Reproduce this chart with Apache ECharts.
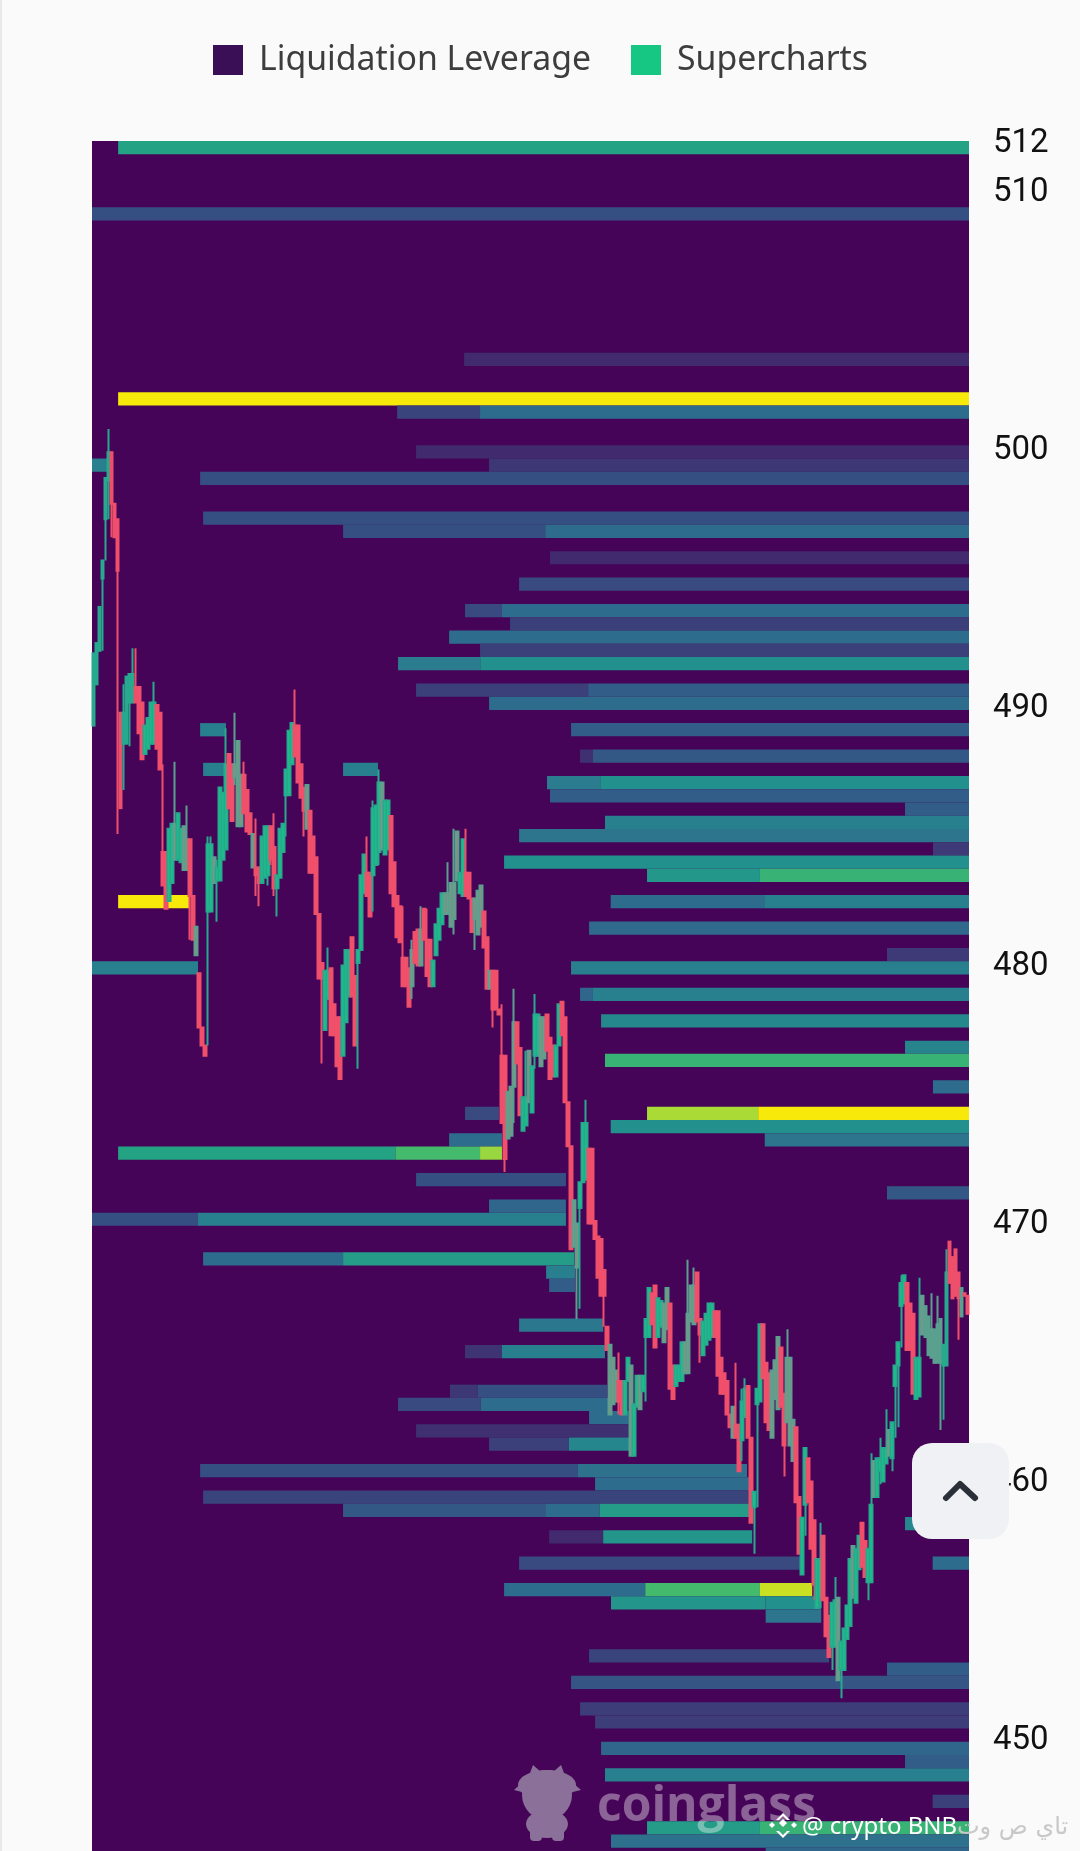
<!DOCTYPE html>
<html><head><meta charset="utf-8">
<style>html,body{margin:0;padding:0;background:#fafafa;overflow:hidden}
#c{position:absolute;left:0;top:0;width:1080px;height:1851px}
#e{position:absolute;left:0;top:0;width:2px;height:1851px;background:#e9e9e9}</style>
<script src="https://cdn.jsdelivr.net/npm/echarts@6/dist/echarts.min.js"></script>
</head><body><div id="c"></div><div id="e"></div>
<script>
const seriesNames=['Liquidation Leverage','Supercharts'];
const tickValues=[512,510,500,490,480,470,460,450];
const priceTop=511.86, priceBottom=445.58, binSize=0.5128, timeSpan=292;
// liquidation heat segments: price-bin row, from time, to time, normalised level
const heatRow=[0,5,16,19,20,20,23,24,24,25,28,29,29,31,33,35,35,36,37,38,39,39,41,41,42,44,44,46,46,47,47,48,48,49,50,51,52,53,54,55,55,57,57,57,59,61,62,62,64,64,66,68,69,71,73,73,73,74,75,75,76,76,76,78,79,80,81,81,84,84,85,86,89,91,91,94,94,95,95,96,97,98,98,100,100,101,102,103,103,103,104,105,105,107,107,109,109,109,110,110,111,114,115,116,118,119,121,122,123,125,127,127,128,129];
const heatFrom=[8.7,0,123.9,8.7,101.6,129.2,107.9,0,132.2,36,37,83.6,150.9,152.5,142.2,124.2,136.5,139.2,118.9,129.2,101.9,129.5,107.9,165.2,132.2,36,159.5,162.5,166.8,37,83.6,151.5,169.2,152.5,270.7,170.8,142.2,280,137.2,184.8,222.4,8.7,172.7,223.8,165.5,264.7,0,159.5,162.5,166.8,169.5,270.7,170.8,280,124.2,184.8,221.8,172.7,118.9,224,8.7,101,129.2,107.9,264.7,132.2,0,35.3,37,83.6,151.2,152.2,142.2,124.2,136.5,119.2,128.5,101.9,129.5,165.5,107.9,132.2,158.8,36,161.8,167.5,37,83.6,150.9,169,270.7,152.2,170.2,142.2,279.9,137.2,184.2,222.4,172.8,224.3,224.3,165.5,264.7,159.5,162.5,167.5,169.5,270.7,170.8,279.9,184.8,222.4,172.8,224.3];
const heatTo=[292,292,292,292,129.2,292,292,5,292,292,292,150.9,292,292,292,136.5,292,292,292,292,129.5,292,165.2,292,292,44.6,292,166.8,292,44.3,95.2,169.2,292,292,292,292,292,292,292,222.4,292,32.3,223.8,292,292,292,35.3,292,166.8,292,292,292,292,292,135.5,221.8,292,292,136.5,292,101,129.2,136.5,157.8,292,157.8,35.3,157.8,83.6,160.5,160.8,160.8,170.2,136.5,170.8,128.5,171.5,129.5,171.8,178.7,178.7,158.8,179.2,161.8,218.1,218.8,218.8,150.9,169,218.8,292,170.2,219.8,236.1,292,184.2,222.4,239.8,224.3,242.8,242.8,245.4,292,292,292,292,292,292,292,292,222.4,292,292,292];
const heatLevel=[.58,.22,.1,1,.18,.33,.1,.42,.14,.22,.22,.22,.33,.1,.2,.2,.33,.17,.33,.17,.4,.5,.17,.27,.33,.42,.27,.12,.25,.42,.42,.4,.5,.27,.27,.42,.37,.15,.5,.53,.66,1,.33,.42,.32,.15,.42,.42,.3,.42,.46,.44,.66,.33,.2,.88,1,.5,.33,.37,.58,.7,.85,.22,.25,.3,.22,.42,.33,.55,.42,.27,.38,.13,.42,.14,.22,.2,.33,.33,.12,.17,.45,.22,.35,.33,.18,.25,.33,.55,.45,.1,.52,.2,.33,.33,.7,.93,.52,.5,.37,.18,.27,.24,.16,.16,.3,.27,.42,.17,.55,.66,.35,.3];
const candleOHLC=[[489.2,492,489.2,492],[490.8,492.4,490.8,492.4],[492.1,493.8,492.1,493.8],[494.9,495.6,492.1,495.6],[497.2,498.8,495.6,498.8],[498.7,499.8,497.2,500.7],[499.8,497.8,496.5,499.8],[497.8,496.5,496.5,497.8],[497.2,495.2,485,497.2],[489.7,486,486,489.7],[488.5,489.7,486.7,490.8],[488.5,491.1,488.5,491.1],[490.1,491.2,488.4,491.2],[490.1,491.2,490.1,492.2],[490.7,490.1,490.1,492.2],[490.7,488.9,488.9,490.7],[490.1,487.9,487.9,490.1],[488.1,489.2,488.1,489.2],[488.3,489.5,488.3,489.5],[488.5,490.1,488.5,490.1],[488.5,490.1,488.5,490.9],[490,488.3,488.3,490],[489.7,487.5,487.5,489.7],[484.3,483,483,487.7],[484.3,482.1,482.1,484.3],[482.4,485.2,482.4,485.2],[483.1,485.4,483.1,485.4],[485.4,484,484,487.8],[484,485.8,484,485.8],[483.9,485.2,483.9,485.2],[485.3,483.6,483.6,485.3],[483.6,484.8,483.6,486.1],[484.8,482.6,480.9,484.8],
[482.6,480.9,480.9,482.6],[480.3,481.4,480.3,481.4],[479.6,477.5,477.5,479.6],[477.5,476.8,476.8,477.5],[476.8,476.4,476.4,476.8],[482,484.6,476.8,484.9],[482,484.6,482,484.9],[484.1,483.1,483.1,484.1],[483.2,483.7,481.6,484],[483.2,486.8,483.2,486.8],[484,486.6,484,486.6],[484.4,487.7,484.4,489.1],[488.1,486,486,488.1],[487.7,485.5,485.5,487.7],[487.2,487.7,486.9,489.7],[488.6,485.3,485.3,488.6],[485.3,487.3,485.3,487.3],[487.3,485.8,485.8,487.8],[486.7,485.1,485.1,486.7],[485.8,485,485,485.8],[483.7,485,483.7,485],[483.7,483.4,482.6,485.6],[483.7,483.1,482.2,483.7],[483.1,484.9,483.1,484.9],[483.3,485.3,483.3,485.3],[483.4,485.3,483,485.3],[485.3,484,483.8,485.3],[484.5,482.9,482.6,485.8],[482.9,483.4,481.8,483.4],[483.3,485.2,483.3,485.2],[484.3,485.4,484.3,485.4],[486.5,487.5,484.9,487.5],[486.5,489,486.5,489],[487.7,489.3,487.7,489.3],[489.2,488,488,490.6],[489.2,487,487,489.2],[487.7,486.4,486.4,487.7],[486.8,485.9,484.9,486.8],[485.2,486.9,485.2,486.9],[485.9,483.5,483.5,485.9],[484.9,483.5,483.5,484.9],[484.1,481.9,481.9,484.1],[481.9,479.4,479.4,481.9],[480,479.4,476.1,480],[477.4,479.7,477.4,479.7],[478.6,479.7,478.6,480.6],[479.8,477.2,477.2,479.8],[478.4,477.2,477.2,478.4],[477.9,476,476,477.9],[477.9,475.5,475.5,477.9],[476.4,479.9,476.4,479.9],[477.7,480.5,477.7,480.5],[478.7,480.5,478.7,480.5],[481,478.7,478.7,481],[479.5,476.8,476.8,479.5],[480,480.5,475.9,480.5],[480.5,483.4,480.5,483.4],[482.7,484.2,482.7,484.2],[483.5,482.6,482.6,484.9],[483.5,481.8,481.8,483.5],[483.4,486,482,486.3],[483.8,486.1,483.8,486.1],[484.3,487,483.8,487.5],[487,484.4,484.4,487],[484.2,486.3,484.2,486.3],[484.4,486.3,484.4,486.3],[485.7,482.7,482.7,485.7],[483.9,482.2,482.2,483.9],[482.6,481,481,482.6],[482.2,480.8,480.8,482.2],[480.2,479.1,479.1,482.2],[480.2,479.1,479.1,480.2],[479.8,478.3,478.3,479.8],[479.1,480.5,478.6,480.9],[481.2,480,480,481.2],[481.3,479.9,479.9,481.3],[479.9,481.3,479.9,482.2],[482.1,480.9,480.9,482.1],[480.9,479.5,479.5,482.1],[480.9,479.1,479.1,480.9],[479.1,480.1,479.1,480.1],[480.3,481.5,480.3,481.5],[480.9,482.1,480.9,482.1],[481.5,482.7,481.5,482.7],[482.7,481.9,481.9,482.7],[481.9,482.7,481.9,483.9],[483.1,481.4,481.4,483.1],[481.7,483.1,481.1,485.2],[485.1,483.2,483.2,485.1],[482.7,483.5,482.7,483.5],[482.6,484.8,482.6,484.8],[483.5,482.6,482.6,485.2],[483.5,482.5,482.5,483.5],[482.5,481.2,481.2,482.5],[481.7,482.5,480.5,482.5],
[482.8,481.1,481.1,482.8],[481.4,483,481.4,483],[482,480.6,480.6,482],[481,479,479,481],[479,479.7,479,479.7],[479.7,478.2,477.5,479.7],[479.7,478.2,478.2,479.7],[478.2,478,478,478.2],[476.4,473.8,473.8,478.4],[476.4,472.4,471.9,476.4],[473.2,475,473.2,475],[475.2,473.3,473.3,475.2],[475.2,477.7,473.8,479],[477.7,476.1,476.1,477.7],[476.7,474.1,474.1,476.7],[473.5,474.8,473.5,474.8],[473.7,474.8,473.7,476.6],[476.6,474.6,474.6,476.6],[474.2,476,474.2,476],[476.4,478,475.9,478.8],[476.4,478,476.4,478],[477.9,476,476,477.9],[476.3,477.9,476.3,477.9],[478,476.6,476.6,478],[477.1,475.5,475.5,477.1],[476.8,475.6,475.6,476.8],[475.6,476.8,475.6,476.8],[476.8,478.4,476.8,478.4],[478.5,477.2,477.2,478.5],[477.9,474.6,474.6,477.9],[474.6,472.9,472.9,474.6],[472.9,468.9,468.9,472.9],[469,470.8,469,470.8],[469.9,468.2,466.2,469.9],[470.5,471.5,466.6,471.5],[471.5,473.8,471.5,473.8],[471.6,473.8,471.6,474.7],[472.8,469.9,469.9,472.8],[472.8,469.9,469.9,472.8],[470,469.3,469.3,470],[469.4,467.8,467.8,469.4],[469.3,467.1,467.1,469.3],[468.1,467.1,465.9,468.1],[465.9,465,465,465.9],[462.5,465.2,462.5,465.2],[464.7,462.9,462.9,464.7],[463,464.2,463,464.2],[463.8,463,462.5,464.9],[463.8,462.5,462.5,463.8],[462.5,463.8,462.5,463.8],[463.8,464.7,463.8,464.7],[464.4,460.9,460.9,464.4],[460.9,462.9,460.9,462.9],[462.8,464,462.8,464],[464,462.7,462.7,464],[463.4,464,463.4,464],[465.5,466.2,463,466.2],[465.5,467.4,465.5,467.4],[467.2,466,466,467.2],[467.5,465.1,465.1,467.5],[465.5,467,465.5,467],[465.9,466.9,465.9,466.9],[466.8,465.3,465.3,466.8],[465.8,467.4,465.8,467.4],[466.8,463.5,463.5,466.8],[464.4,463.1,463.1,464.4],[463.6,464.4,463.6,464.4],[463.8,464.4,463.8,464.4],[463.8,465.3,463.8,465.3],[465.3,464.1,464.1,465.3],[464.1,466.4,464.1,468.5],[467.5,466.1,466.1,467.5],[466,467.5,466,468.2],[468,466.1,466.1,468],[466.2,465.6,464.5,466.2],[464.8,466.1,464.8,466.1],[465.2,466.4,465.2,466.4],[465.4,466.8,465.4,466.8],[465.5,466.8,465.5,466.8],[466.5,465.5,465.5,466.5],[466.5,464,464,466.5],[464.7,463.3,463.3,464.7],[464.1,463.3,463.3,464.1],[463.8,462.5,462.5,463.8],[462.5,462,462,462.5],[461.6,462.8,461.6,462.8],[462.1,461.6,461.6,464.5],[462.1,460.3,460.3,462.1],[461.5,463,460.7,463.5],[462.4,463.5,462.4,463.9],[463.6,461.6,461.6,463.6],[461.6,458.3,458.3,461.6],[458.9,459.5,457.1,459.5],[462.9,463.5,458.9,463.5],[463,466,463,466],[466,463.9,463.9,466],[464.5,462.2,462.2,464.5],[464.1,461.9,461.9,464.1],[461.6,464.2,461.6,464.2],[464.6,463.1,463.1,464.6],[462.7,465.5,462.7,465.5],
[465.1,462.8,462.8,465.1],[463.3,461.3,460.1,463.3],[462.2,464.7,462.2,465.8],[464.7,461.3,461.3,464.7],[460.7,462.3,460.7,462.3],[462,459.1,459.1,462],[459.3,457.1,457.1,459.3],[456.3,458.5,456.3,458.5],[459,461.2,457.8,461.2],[460.8,459.1,459.1,460.8],[459.9,457.3,457.3,459.9],[458.4,455.9,455.3,458.4],[455,456.9,455,456.9],[455.4,456.9,455,458.3],[457.8,455.3,455.3,457.8],[455.4,453.9,453.9,455.4],[454.7,453.1,453.1,454.7],[453.5,455.2,452.6,455.2],[453.5,455.3,453.5,456.2],[455.4,452.2,452.2,455.4],[452.6,453.7,451.5,453.7],[452.6,454.2,452.6,454.2],[453.8,455.1,453.8,455.1],[454.3,456.9,454.3,456.9],[457.4,455.4,455.4,457.4],[455.2,457.3,455.2,457.3],[456.5,457.8,456.5,457.8],[458.3,456.6,456.6,458.3],[457.6,456.2,456.2,457.6],[456,457.3,455.3,457.3],[456,459,456,461],[460.7,459.3,459.3,460.7],[459.3,460.8,459.3,460.8],[460.3,460.8,459.8,461.6],[459.9,461.2,459.9,461.2],[460.6,461.2,460.6,462.7],[461.9,460.9,460.9,461.9],[460.8,462.2,460.3,462.2],[463.6,464.4,461.6,464.4],[464.4,465.3,462,465.3],[466.7,467.6,465.1,467.9],[466.8,467.9,466.8,467.9],[467.6,465,465,467.6],[466.8,465,465,466.8],[466.4,463.3,463.3,466.4],[463.1,464.7,463.1,464.7],[463.2,464.7,463.2,467.8],[467.1,465.6,465.6,467.1],[465.5,466.7,465.5,466.7],[466.3,464.8,464.8,466.3],[464.7,465.8,464.7,467.2],[465.8,464.5,464.5,465.8],[464.5,466,464.5,467.1],[466.2,464.5,461.9,466.2],[464.4,465.2,462.3,465.2],[464.4,468,464.4,468.9],[469.2,467.6,467.6,469.2],[468.6,467,467,468.6],[468.9,467.1,467.1,468.9],[468,467,465.4,468],[466.3,467.4,466.3,467.4],[467.2,467.1,467.1,467.2],[467.1,466.4,466.4,467.1]];
const candleTimes=candleOHLC.map((_,i)=>String(i));
const heatData=heatRow.map((r,i)=>[r,heatFrom[i],heatTo[i],heatLevel[i]]);
const isUp=i=>candleOHLC[i]&&candleOHLC[i][1]>=candleOHLC[i][0];
// a candle squeezed between two opposite neighbours reads as muted olive in the reference
const candleItems=candleOHLC.map((v,i)=>{
 const alone=i>0&&i<candleOHLC.length-1&&isUp(i-1)!==isUp(i)&&isUp(i+1)!==isUp(i);
 return alone?{value:v,itemStyle:{color:'#8f9180',color0:'#9c8f80',borderColor:'#5aa08f',borderColor0:'#c8727c'}}:{value:v};
});

const chart=echarts.init(document.getElementById('c'),null,{renderer:'canvas'});
const cowColor='#8b7099';
const wm=(o,z)=>Object.assign({z:z,silent:true},o);
// the reference draws its tick labels a few pixels under their levels
const labelAnchor=v=>v===512?511.75:v-0.15;
chart.setOption({
 animation:false,
 legend:{left:213,top:43,padding:0,itemWidth:30,itemHeight:30,itemGap:40,icon:'rect',
  textStyle:{fontFamily:'Noto Sans',fontSize:33.8,color:'#3d3d3d',padding:[0,0,0,11]},
  data:[{name:seriesNames[0],itemStyle:{color:'#3b0f56',borderWidth:0}},{name:seriesNames[1],itemStyle:{color:'#16c784',borderWidth:0}}]},
 grid:{left:92,right:111,top:141,bottom:0,show:true,backgroundColor:'#450457',borderWidth:0},
 visualMap:{show:false,seriesIndex:0,dimension:3,min:0,max:1,
  inRange:{color:['#450457','#412a6e','#384a80','#30658c','#2a7c8e','#22908c','#25a882','#44bb6c','#7ad151','#b5dc2e','#f7e90a']}},
 xAxis:[{type:'category',data:candleTimes,show:false},{type:'value',min:0,max:timeSpan,show:false}],
 yAxis:{type:'value',position:'right',min:priceBottom,max:priceTop,splitLine:{show:false},axisLine:{show:false},axisTick:{show:false},
  axisLabel:{customValues:tickValues.map(labelAnchor),formatter:v=>String(Math.round(v)),margin:24,fontFamily:'Roboto',fontSize:33,color:'#111'}},
 graphic:[
  wm({type:'rect',shape:{x:912,y:1443,width:97,height:96,r:20},style:{fill:'#eff1f5'}},100),
  wm({type:'polyline',shape:{points:[[946,1498],[960,1484],[975,1498]]},style:{stroke:'#2b2f38',lineWidth:6,lineCap:'round',lineJoin:'round',fill:null}},101),
  wm({type:'circle',shape:{cx:547,cy:1795,r:25},style:{fill:cowColor}},90),
  wm({type:'ellipse',shape:{cx:547,cy:1785,rx:29,ry:15},style:{fill:cowColor}},90),
  wm({type:'polygon',shape:{points:[[514,1790],[528,1777],[534,1795]]},style:{fill:cowColor}},90),
  wm({type:'polygon',shape:{points:[[581,1790],[566,1777],[560,1795]]},style:{fill:cowColor}},90),
  wm({type:'polygon',shape:{points:[[530,1773],[533,1765],[541,1772]]},style:{fill:cowColor}},90),
  wm({type:'polygon',shape:{points:[[564,1773],[561,1765],[553,1772]]},style:{fill:cowColor}},90),
  wm({type:'ellipse',shape:{cx:547,cy:1824,rx:21,ry:14},style:{fill:cowColor}},90),
  wm({type:'rect',shape:{x:530,y:1828,width:12,height:13,r:4},style:{fill:cowColor}},90),
  wm({type:'rect',shape:{x:552,y:1828,width:12,height:13,r:4},style:{fill:cowColor}},90),
  wm({type:'text',style:{x:597,y:1783,text:'coinglass',font:'700 48px "Open Sans"',fill:'rgba(255,255,255,0.38)'}},90),
  wm({type:'polygon',shape:{points:[[783,1819],[787,1823],[783,1827],[779,1823]]},style:{fill:'#fff'}},95),
  wm({type:'polygon',shape:{points:[[783,1813],[790,1820],[787,1820],[783,1816],[779,1820],[776,1820]]},style:{fill:'#fff'}},95),
  wm({type:'polygon',shape:{points:[[783,1838],[790,1831],[787,1831],[783,1835],[779,1831],[776,1831]]},style:{fill:'#fff'}},95),
  wm({type:'polygon',shape:{points:[[772,1822],[775,1825],[772,1828],[769,1825]]},style:{fill:'#fff'}},95),
  wm({type:'polygon',shape:{points:[[794,1822],[797,1825],[794,1828],[791,1825]]},style:{fill:'#fff'}},95),
  wm({type:'text',style:{x:802,y:1815,text:'@ crypto BNB',font:'24px "Noto Sans"',fill:'#ffffff'}},95),
  wm({type:'text',style:{x:957,y:1816,text:'تاي ص وت',font:'24px "DejaVu Sans"',fill:'#c8c8c8'}},95)
 ],
 series:[
  {name:seriesNames[0],type:'custom',xAxisIndex:1,yAxisIndex:0,clip:true,silent:true,data:heatData,
   dimensions:['row','from','to','level'],encode:{x:[1,2],y:0},itemStyle:{color:'#3b0f56'},
   renderItem:(p,api)=>{
    const r=api.value(0);
    const a=api.coord([api.value(1),priceTop-r*binSize]);
    const b=api.coord([api.value(2),priceTop-(r+1)*binSize]);
    return {type:'rect',shape:{x:a[0],y:a[1],width:b[0]-a[0],height:b[1]-a[1]},style:{fill:api.visual('color')}};
   }},
  {name:seriesNames[1],type:'candlestick',xAxisIndex:0,yAxisIndex:0,data:candleItems,barWidth:3.4,z:5,
   itemStyle:{color:'#14cc86',color0:'#f4506a',borderColor:'#27a98e',borderColor0:'#ee4f6a',borderWidth:2}}
 ]
});
</script></body></html>
